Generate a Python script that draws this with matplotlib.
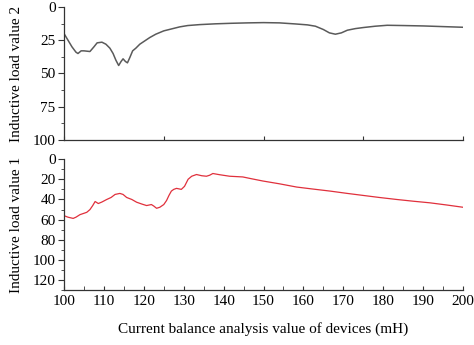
import numpy as np
import matplotlib
matplotlib.use('Agg')
import matplotlib.pyplot as plt
from matplotlib.ticker import MultipleLocator

plt.rcParams['font.family'] = ['Liberation Serif', 'DejaVu Serif']

# load value 2 (top panel)
x2 = [100, 101, 102, 103, 103.5, 104.3, 105, 106.5, 107.5, 108.3, 109.5, 110.5,
      111.5, 112.3, 113, 113.7, 114.3, 114.8, 115.4, 115.9, 116.5, 117.2, 118,
      119, 120, 121.5, 123, 125, 127, 129, 131, 134, 138, 142, 146, 150, 154,
      158, 161, 163, 165, 166.5, 168, 169.5, 171, 173, 175, 178, 181, 185, 190,
      195, 200]
y2 = [20, 25, 30, 34, 35, 33, 33, 33.5, 30, 27, 26.5, 28,
      31, 35, 40, 44, 41, 39, 41, 42, 38, 33, 31,
      28, 26, 23, 20.5, 18, 16.5, 15, 14, 13.3, 12.7, 12.3, 12, 11.8, 12,
      12.8, 13.5, 14.5, 17, 19.5, 20.5, 19.5, 17.5, 16.3, 15.5, 14.5, 13.8, 14, 14.3,
      14.8, 15.3]

# load value 1 (bottom panel)
x1 = [100, 101, 102.3, 103, 104, 105.7, 106.5, 107.2, 107.8, 108.6, 109.5, 110.7,
      111.8, 112.8, 114, 114.8, 115.7, 117, 118.2, 119.5, 120.7, 121.9, 122.5,
      123.2, 124, 125, 125.7, 126.3, 126.9, 127.5, 128.2, 129.4, 130.2, 131.1,
      132, 133.2, 134.5, 135.7, 136.5, 137.3, 139, 141.5, 144.8, 147, 149.8, 154,
      158.3, 162, 166.7, 171, 175, 179, 183.4, 187.5, 191.7, 196, 200]
y1 = [56, 57.5, 58.7, 57.5, 55, 52.7, 50, 46, 42, 44, 42.5, 40,
      38, 35, 34, 35, 38, 40, 42.7, 44.5, 46, 45, 46.5,
      48.7, 47.7, 45, 41, 36, 31.7, 30, 29, 30, 27, 20,
      17, 15.3, 16.5, 17, 16, 14.3, 15.5, 17, 17.7, 19.5, 21.7, 24.5,
      27.7, 29.5, 31.7, 34, 36, 38, 40, 41.7, 43.3, 45.5, 47.7]

fig = plt.figure(figsize=(4.74, 3.45), dpi=100)
ax2 = fig.add_axes([0.135, 0.594, 0.842, 0.386])
ax1 = fig.add_axes([0.135, 0.158, 0.842, 0.381])

spine_c = '#333333'
for ax in (ax1, ax2):
    ax.spines['top'].set_visible(False)
    ax.spines['right'].set_visible(False)
    for s in ('left', 'bottom'):
        ax.spines[s].set_color(spine_c)
        ax.spines[s].set_linewidth(0.9)
    ax.set_xlim(100, 200)
    ax.tick_params(axis='y', which='major', direction='out', length=4,
                   labelsize=11, color=spine_c, pad=2)
    ax.tick_params(axis='y', which='minor', direction='out', length=2.5,
                   color=spine_c)
    ax.tick_params(axis='x', which='both', direction='in', length=3,
                   color=spine_c, labelsize=11)

ax2.plot(x2, y2, color='#5a5a5a', lw=1.1)
ax2.set_ylim(100, 0)
ax2.yaxis.set_major_locator(MultipleLocator(25))
ax2.yaxis.set_minor_locator(MultipleLocator(12.5))
ax2.xaxis.set_major_locator(MultipleLocator(25))
ax2.tick_params(axis='x', labelbottom=False)
ax2.set_ylabel('Inductive load value 2', fontsize=11, labelpad=7)

ax1.plot(x1, y1, color='#e0303c', lw=0.9)
ax1.set_ylim(130, 0)
ax1.yaxis.set_major_locator(MultipleLocator(20))
ax1.yaxis.set_minor_locator(MultipleLocator(10))
ax1.xaxis.set_major_locator(MultipleLocator(10))
ax1.xaxis.set_minor_locator(MultipleLocator(5))
ax1.set_ylabel('Inductive load value 1', fontsize=11, labelpad=7)
ax1.set_xlabel('Current balance analysis value of devices (mH)', fontsize=11,
               labelpad=10)

fig.align_ylabels([ax1, ax2])
fig.savefig('out.png', dpi=100)
